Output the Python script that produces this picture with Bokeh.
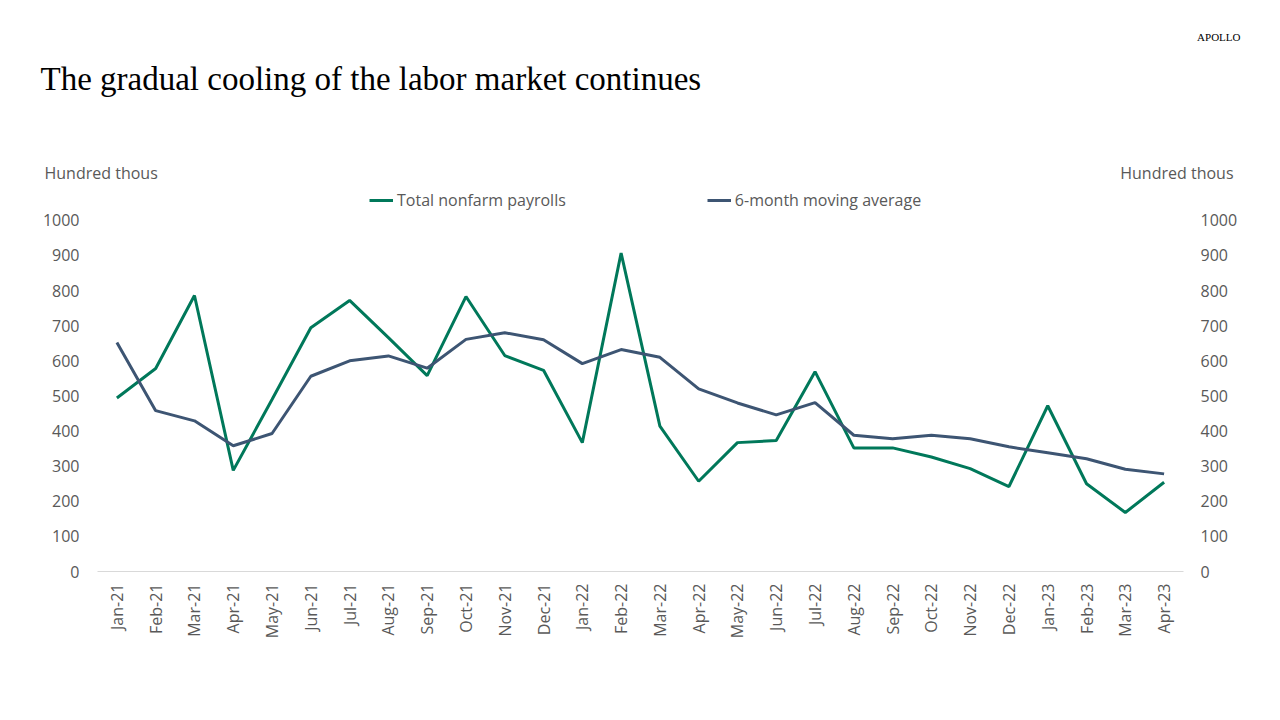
import math
from bokeh.plotting import figure
from bokeh.layouts import column
from bokeh.models import (FactorRange, Range1d, LinearAxis, FixedTicker,
                          Legend, LegendItem)
from bokeh.core.properties import value
from bokeh.embed import file_html
from bokeh.resources import INLINE

months = ["Jan-21", "Feb-21", "Mar-21", "Apr-21", "May-21", "Jun-21", "Jul-21",
          "Aug-21", "Sep-21", "Oct-21", "Nov-21", "Dec-21", "Jan-22", "Feb-22",
          "Mar-22", "Apr-22", "May-22", "Jun-22", "Jul-22", "Aug-22", "Sep-22",
          "Oct-22", "Nov-22", "Dec-22", "Jan-23", "Feb-23", "Mar-23", "Apr-23"]
payrolls = [494, 578, 786, 288, 490, 694, 772, 666, 558, 783, 615, 573, 367, 907,
            414, 257, 367, 373, 569, 352, 352, 326, 293, 242, 472, 250, 168, 254]
moving_avg = [652, 458, 429, 358, 393, 556, 600, 614, 579, 661, 680, 660, 592, 632,
              610, 520, 480, 446, 481, 388, 378, 388, 378, 355, 338, 321, 291, 278]
y_ticks = [0, 100, 200, 300, 400, 500, 600, 700, 800, 900, 1000]

title_text = "The gradual cooling of  the labor market continues"
unit_text = "Hundred thous"
brand_text = "APOLLO"
series_names = ["Total nonfarm payrolls", "6-month moving average"]

GREEN = "#00785a"
BLUE = "#3d5573"
GREY = "#595959"
FONT = "Open Sans"
SERIF = "Liberation Serif"

# ---- header (titles) ----
HEADER_H = 190
h = figure(width=1280, height=HEADER_H, x_range=Range1d(0, 1280), y_range=Range1d(HEADER_H, 0),
           output_backend="svg", toolbar_location=None, x_axis_location=None,
           y_axis_location=None, min_border=0)
h.frame_align = False
h.outline_line_color = None
h.grid.visible = False
h.border_fill_color = "white"
h.background_fill_color = "white"
h.text(x=[40], y=[78], text=[title_text], text_font=value(SERIF), text_font_size="33px",
       text_color="black", text_baseline="alphabetic", text_align="left")
h.text(x=[1240], y=[36], text=[brand_text], text_font=value(SERIF), text_font_size="11px",
       text_color="black", text_baseline="middle", text_align="right")
h.text(x=[44], y=[172], text=[unit_text], text_font=value(FONT), text_font_size="16px",
       text_color=GREY, text_baseline="middle", text_align="left")
h.text(x=[1233], y=[172], text=[unit_text], text_font=value(FONT), text_font_size="16px",
       text_color=GREY, text_baseline="middle", text_align="right")

# ---- chart ----
p = figure(width=1280, height=720 - HEADER_H, x_range=FactorRange(*months),
           y_range=Range1d(0, 1085), output_backend="svg", toolbar_location=None,
           min_border_left=97, min_border_right=97, min_border_top=0, min_border_bottom=149)
p.frame_align = False
p.outline_line_color = None
p.xgrid.visible = False
p.ygrid.visible = False
p.background_fill_color = "white"
p.border_fill_color = "white"

r1 = p.line(x=months, y=payrolls, line_color=GREEN, line_width=3)
r2 = p.line(x=months, y=moving_avg, line_color=BLUE, line_width=3)

xa = p.xaxis[0]
xa.axis_line_color = "#d9d9d9"
xa.axis_line_width = 1
xa.major_tick_line_color = None
xa.minor_tick_line_color = None
xa.major_tick_out = 0
xa.major_label_orientation = math.pi / 2
xa.major_label_standoff = 12
xa.major_label_text_font = FONT
xa.major_label_text_font_size = "16px"
xa.major_label_text_color = GREY

ya = p.yaxis[0]
ya.ticker = FixedTicker(ticks=y_ticks)
ra = LinearAxis(ticker=FixedTicker(ticks=y_ticks))
p.add_layout(ra, "right")
for ax, so in ((ya, 18), (ra, 17)):
    ax.axis_line_color = None
    ax.major_tick_line_color = None
    ax.minor_tick_line_color = None
    ax.major_tick_out = 0
    ax.major_label_standoff = so
    ax.major_label_text_font = FONT
    ax.major_label_text_font_size = "16px"
    ax.major_label_text_color = GREY

legend = Legend(items=[LegendItem(label=series_names[0], renderers=[r1]),
                       LegendItem(label=series_names[1], renderers=[r2])],
                location=(272, 360), orientation="horizontal")
legend.border_line_color = None
legend.background_fill_alpha = 0
legend.padding = 0
legend.margin = 0
legend.spacing = 141
legend.glyph_width = 24
legend.label_standoff = 4
legend.label_text_font = FONT
legend.label_text_font_size = "16px"
legend.label_text_color = GREY
p.add_layout(legend, "center")

layout = column(h, p, spacing=0)
open("out.html", "w").write(file_html(layout, INLINE))
